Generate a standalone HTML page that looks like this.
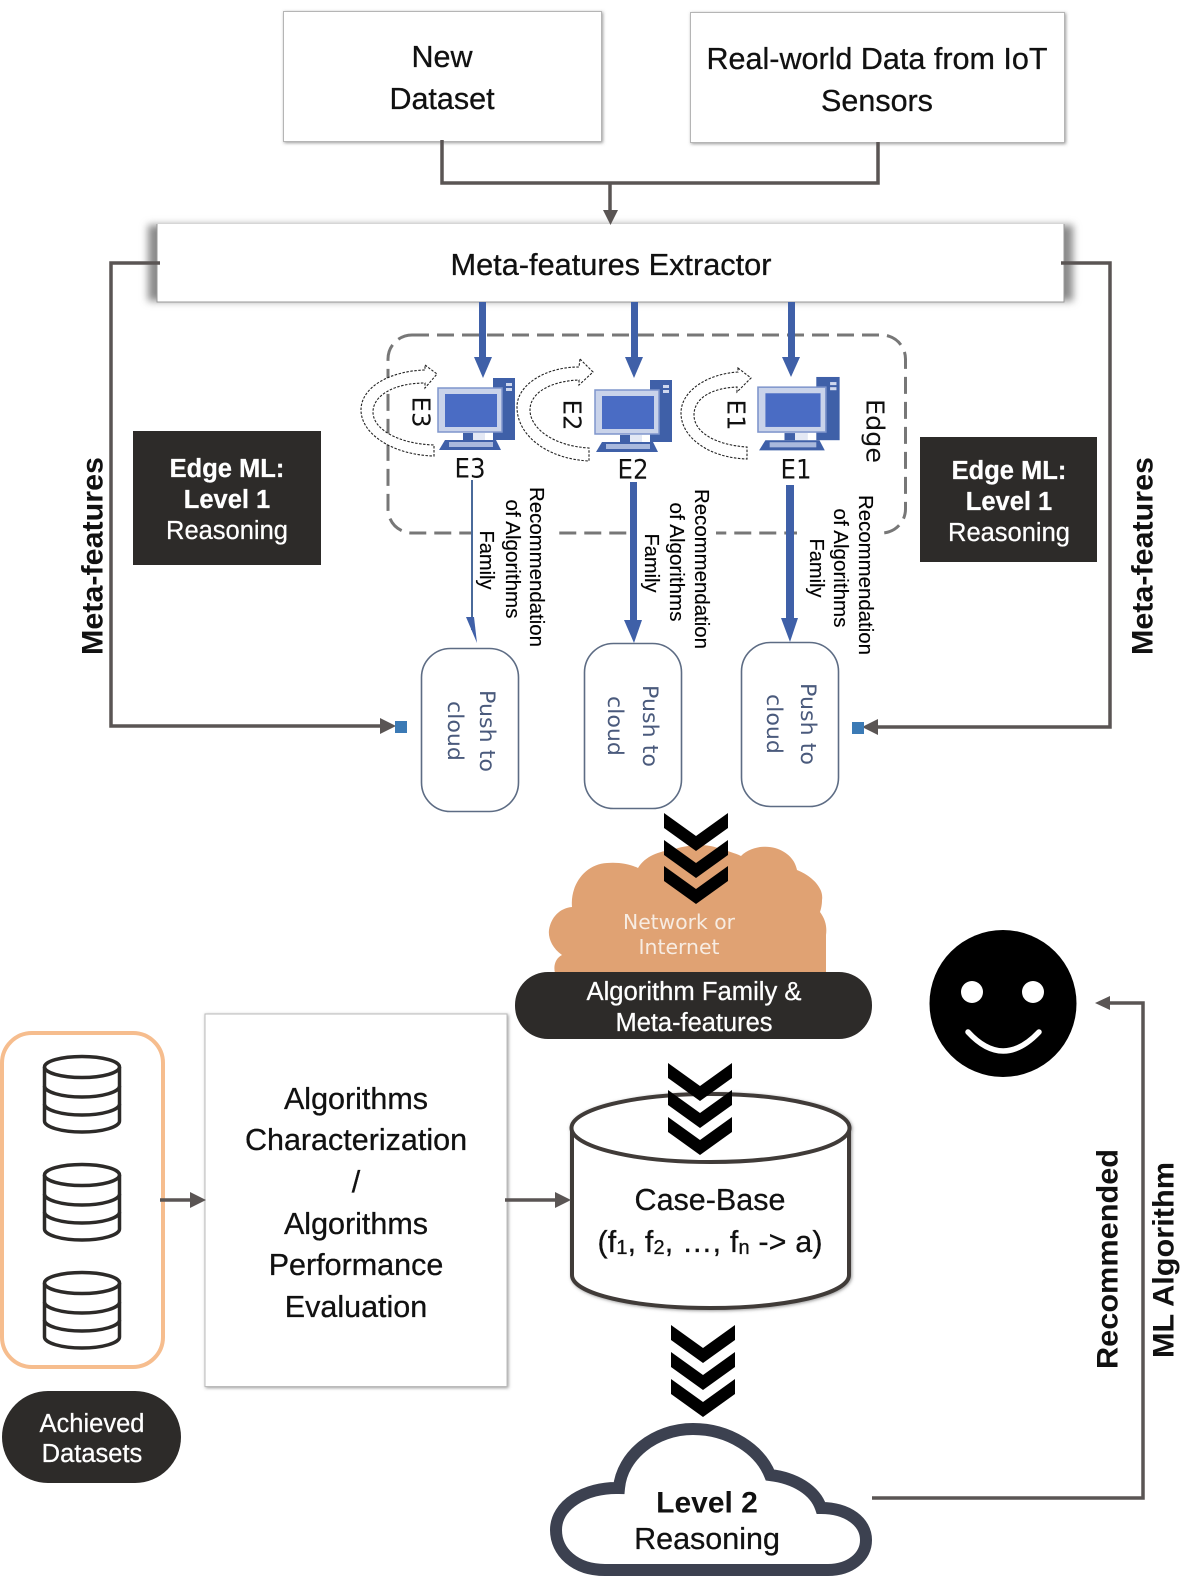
<!DOCTYPE html>
<html>
<head>
<meta charset="utf-8">
<style>
html,body{margin:0;padding:0;background:#fff;width:1181px;height:1576px;overflow:hidden}
svg{display:block}
text{font-family:"Liberation Sans",Arial,sans-serif;dominant-baseline:central;text-anchor:middle;fill:#111}
.t30{font-size:30.5px;stroke:#111;stroke-width:.3}
.w{fill:#fff;font-size:25.5px;stroke:#fff;stroke-width:.25}
.b{font-weight:bold}
.rec{font-size:20px;fill:#000;stroke:#000;stroke-width:.15}
.dj{font-family:"DejaVu Sans",sans-serif}
.push{font-family:"DejaVu Sans",sans-serif;font-size:21px;fill:#4a5a7c}
.pb{fill:#fff;stroke:#5d6c84;stroke-width:1.6}
.dot{fill:#fff;stroke:#222;stroke-width:1.1;stroke-dasharray:2.5 1.5}
</style>
</head>
<body>
<svg width="1181" height="1576" viewBox="0 0 1181 1576" xmlns="http://www.w3.org/2000/svg">
<defs>
<filter id="sh" x="-5%" y="-10%" width="110%" height="120%"><feDropShadow dx="1" dy="1" stdDeviation="1.5" flood-color="#555" flood-opacity=".6"/></filter>
<filter id="blur" x="-5%" y="-30%" width="110%" height="160%"><feGaussianBlur stdDeviation="4"/></filter>
<g id="pc">
<rect x="55" y="-2" width="22" height="62" fill="#3f60a8"/>
<rect x="68" y="3" width="6" height="3" fill="#cfd8ee"/>
<rect x="68" y="8" width="6" height="3" fill="#cfd8ee"/>
<rect x="0" y="8" width="64" height="44" fill="#c9d3ea" stroke="#7f95cc" stroke-width="1.5"/>
<rect x="7" y="14" width="52" height="33" fill="#4a6cc4"/>
<rect x="25" y="53" width="10" height="7" fill="#3f60a8"/>
<rect x="35" y="53" width="12" height="7" fill="#e3e8f4"/>
<polygon points="1,70 63,70 58,60 7,60" fill="#3f60a8"/>
<rect x="11" y="62" width="44" height="5" fill="#a9b9dd"/>
</g>
<polygon id="chev" points="0,0 32,23 64,0 64,15 32,38 0,15" fill="#000"/>
<g id="db" fill="none" stroke="#2c2a28" stroke-width="3.5">
<ellipse cx="82" cy="12" rx="37.5" ry="10.5" fill="#fff"/>
<path d="M44.5 12V66c0 6 17 11 37.5 11s37.5-5 37.5-11V12"/>
<path d="M44.5 31c0 6 17 11 37.5 11s37.5-5 37.5-11"/>
<path d="M44.5 49c0 6 17 11 37.5 11s37.5-5 37.5-11"/>
</g>
</defs>
<rect width="1181" height="1576" fill="#fff"/>

<!-- top boxes -->
<rect x="283.500" y="11.500" width="318" height="130" fill="#fff" stroke="#b5b5b5" filter="url(#sh)"/>
<rect x="690.500" y="12.500" width="374" height="130" fill="#fff" stroke="#b5b5b5" filter="url(#sh)"/>
<text class="t30" x="442" y="57">New</text>
<text class="t30" x="442" y="99">Dataset</text>
<text class="t30" x="877" y="59" textLength="341" lengthAdjust="spacingAndGlyphs">Real-world Data from IoT</text>
<text class="t30" x="877" y="101">Sensors</text>

<!-- extractor -->
<rect x="148" y="225" width="925" height="76" fill="#8a8a8a" filter="url(#blur)"/>
<rect x="157" y="224" width="907" height="78" fill="#fff"/>
<path d="M157 224V302H1064V224" fill="none" stroke="#999" stroke-width="1"/>
<text class="t30" x="611" y="265" textLength="321" lengthAdjust="spacingAndGlyphs">Meta-features Extractor</text>

<g fill="none" stroke="#5a5554" stroke-width="3.5">
<path d="M442 140V183H878V142"/>
<path d="M610 183V212"/>
<path d="M160 263H111V726H382"/>
<path d="M1061 263H1110V727H875"/>
<path d="M872 1498H1143V1003H1108"/>
</g>
<polygon points="603,210 618,210 610.500,225" fill="#5a5554"/>
<polygon points="380,718 396,726 380,734" fill="#5a5554"/>
<polygon points="878,719 862,727 878,735" fill="#5a5554"/>
<polygon points="1110,996 1095,1003 1110,1010" fill="#5a5554"/>

<!-- edge dashed -->
<rect x="388" y="335" width="517.500" height="198" rx="24" fill="none" stroke="#777" stroke-width="3" stroke-dasharray="17 8"/>
<rect x="473" y="528" width="84" height="9" fill="#fff"/>
<rect x="637" y="528" width="79" height="9" fill="#fff"/>
<rect x="797" y="528" width="87" height="9" fill="#fff"/>

<!-- blue down arrows -->
<g fill="#3f60a8">
<rect x="479" y="302" width="7" height="60"/><polygon points="474,357 492,357 483,378"/>
<rect x="631" y="302" width="7" height="60"/><polygon points="625,357 643,357 634,378"/>
<rect x="788" y="302" width="7" height="60"/><polygon points="782,357 800,357 791,377"/>
</g>

<!-- dotted loops -->
<path class="dot" d="M425 365L437 374L425 388V383C395 383 373 395 373 412C373 430 400 444 434 445V456C393 455 361 434 361 410C361 387 390 371 425 370Z"/>
<path class="dot" d="M580 359L593 372L579 385V380C552 381 530 392 530 410C530 428 553 446 589 448V461C548 459 517 436 517 407C517 385 545 367 579 367Z"/>
<path class="dot" d="M738 368L751 378L737 392V387C712 388 694 398 694 415C694 432 715 445 747 447V459C710 458 681 438 681 413C681 391 707 374 738 372Z"/>

<!-- computers -->
<use href="#pc" transform="translate(438,380)"/>
<use href="#pc" transform="translate(595,382)"/>
<use href="#pc" transform="translate(758,379) scale(1.06,1.02)"/>

<!-- E labels -->
<g class="dj">
<text class="dj" transform="translate(421,412) rotate(90)" font-size="25" textLength="31" lengthAdjust="spacingAndGlyphs">E3</text>
<text class="dj" transform="translate(572,415) rotate(90)" font-size="25" textLength="31" lengthAdjust="spacingAndGlyphs">E2</text>
<text class="dj" transform="translate(736,415) rotate(90)" font-size="25" textLength="31" lengthAdjust="spacingAndGlyphs">E1</text>
<text class="dj" x="470" y="469" font-size="27" textLength="31" lengthAdjust="spacingAndGlyphs">E3</text>
<text class="dj" x="633" y="470" font-size="27" textLength="31" lengthAdjust="spacingAndGlyphs">E2</text>
<text class="dj" x="796" y="470" font-size="27" textLength="31" lengthAdjust="spacingAndGlyphs">E1</text>
<text class="dj" transform="translate(875,431) rotate(90)" font-size="25" textLength="64" lengthAdjust="spacingAndGlyphs">Edge</text>
</g>

<!-- arrows below -->
<g>
<rect x="471" y="480" width="2" height="150" fill="#4a6a9a"/>
<polygon points="466,617 474,617 477,643" fill="#3f60a8"/>
<rect x="630" y="482" width="7" height="145" fill="#3f60a8"/>
<polygon points="624,620 642,620 634,643" fill="#3f60a8"/>
<rect x="786" y="485" width="8" height="142" fill="#3f60a8"/>
<polygon points="781,618 798,618 790,642" fill="#3f60a8"/>
</g>

<!-- rec labels -->
<text class="rec" transform="translate(536,567) rotate(90)" textLength="160" lengthAdjust="spacingAndGlyphs">Recommendation</text>
<text class="rec" transform="translate(512,559) rotate(90)" textLength="119" lengthAdjust="spacingAndGlyphs">of Algorithms</text>
<text class="rec" transform="translate(486,560) rotate(90)" textLength="59" lengthAdjust="spacingAndGlyphs">Family</text>
<text class="rec" transform="translate(701,569) rotate(90)" textLength="160" lengthAdjust="spacingAndGlyphs">Recommendation</text>
<text class="rec" transform="translate(676,562) rotate(90)" textLength="119" lengthAdjust="spacingAndGlyphs">of Algorithms</text>
<text class="rec" transform="translate(651,563) rotate(90)" textLength="59" lengthAdjust="spacingAndGlyphs">Family</text>
<text class="rec" transform="translate(865,575) rotate(90)" textLength="160" lengthAdjust="spacingAndGlyphs">Recommendation</text>
<text class="rec" transform="translate(840,568) rotate(90)" textLength="119" lengthAdjust="spacingAndGlyphs">of Algorithms</text>
<text class="rec" transform="translate(816,568) rotate(90)" textLength="59" lengthAdjust="spacingAndGlyphs">Family</text>

<!-- push boxes -->
<rect class="pb" x="421.500" y="648.500" width="97" height="163" rx="29"/>
<rect class="pb" x="584.500" y="643.500" width="97" height="165" rx="29"/>
<rect class="pb" x="741.500" y="642.500" width="97" height="164" rx="29"/>
<text class="push" transform="translate(487,731) rotate(90)" textLength="82" lengthAdjust="spacingAndGlyphs">Push to</text>
<text class="push" transform="translate(455,731) rotate(90)" textLength="60" lengthAdjust="spacingAndGlyphs">cloud</text>
<text class="push" transform="translate(650,726) rotate(90)" textLength="82" lengthAdjust="spacingAndGlyphs">Push to</text>
<text class="push" transform="translate(615,726) rotate(90)" textLength="60" lengthAdjust="spacingAndGlyphs">cloud</text>
<text class="push" transform="translate(808,724) rotate(90)" textLength="82" lengthAdjust="spacingAndGlyphs">Push to</text>
<text class="push" transform="translate(774,724) rotate(90)" textLength="60" lengthAdjust="spacingAndGlyphs">cloud</text>

<rect x="395" y="721" width="12" height="12" fill="#3b7ab5"/>
<rect x="852" y="722" width="12" height="12" fill="#3b7ab5"/>

<!-- side labels -->
<text class="b" font-size="29.500" transform="translate(93,556) rotate(-90)" textLength="198" lengthAdjust="spacingAndGlyphs">Meta-features</text>
<text class="b" font-size="29.500" transform="translate(1143,556) rotate(-90)" textLength="198" lengthAdjust="spacingAndGlyphs">Meta-features</text>

<!-- edge ML -->
<rect x="133" y="431" width="188" height="134" fill="#2d2b29"/>
<text class="w b" x="227" y="469">Edge ML:</text>
<text class="w b" x="227" y="500">Level 1</text>
<text class="w" x="227" y="531">Reasoning</text>
<rect x="920" y="437" width="177" height="125" fill="#2d2b29"/>
<text class="w b" x="1009" y="471">Edge ML:</text>
<text class="w b" x="1009" y="502">Level 1</text>
<text class="w" x="1009" y="533">Reasoning</text>

<!-- orange cloud -->
<path d="M555 973C553 965 556 958 562 955C552 948 548 938 549 930C551 917 560 908 572 907C570 885 585 864 607 863C618 862 630 864 638 868C645 856 660 851 672 850C685 845 705 843 718 848C727 851 735 853 741 856C750 847 765 845 775 848C788 852 795 860 797 870C812 876 824 888 822 900C822 905 821 909 820 912C826 920 827 928 826 935V973Z" fill="#e0a273"/>
<text class="dj" x="679" y="922" font-size="20" style="fill:#f7ece2" textLength="112" lengthAdjust="spacingAndGlyphs">Network or</text>
<text class="dj" x="679" y="947" font-size="20" style="fill:#f7ece2" textLength="81" lengthAdjust="spacingAndGlyphs">Internet</text>

<use href="#chev" x="664" y="813"/><use href="#chev" x="664" y="840"/><use href="#chev" x="664" y="866"/>

<!-- pill -->
<rect x="515" y="972" width="357" height="67" rx="33" fill="#2d2b29"/>
<text class="w" x="694" y="992" textLength="215" lengthAdjust="spacingAndGlyphs">Algorithm Family &amp;</text>
<text class="w" x="694" y="1023" textLength="157" lengthAdjust="spacingAndGlyphs">Meta-features</text>

<!-- cylinder -->
<g filter="url(#sh)">
<path d="M572 1128V1275C572 1294 635 1308 710 1308S849 1294 849 1275V1128" fill="#fff" stroke="#3f3a38" stroke-width="4"/>
<ellipse cx="710.500" cy="1128" rx="139" ry="34" fill="#fff" stroke="#3f3a38" stroke-width="4"/>
</g>
<text class="t30" x="710" y="1200">Case-Base</text>
<text class="t30" x="710" y="1242" textLength="225">(f<tspan font-size="20" dy="6">1</tspan><tspan dy="-6">, f</tspan><tspan font-size="20" dy="6">2</tspan><tspan dy="-6">, …, f</tspan><tspan font-size="20" dy="6">n</tspan><tspan dy="-6"> -&gt; a)</tspan></text>
<use href="#chev" x="668" y="1063"/><use href="#chev" x="668" y="1090"/><use href="#chev" x="668" y="1117"/>
<use href="#chev" x="671" y="1325"/><use href="#chev" x="671" y="1352"/><use href="#chev" x="671" y="1379"/>

<!-- algorithms box -->
<rect x="205" y="1014" width="302" height="372.500" fill="#fff" stroke="#bbb" filter="url(#sh)"/>
<text class="t30" x="356" y="1099">Algorithms</text>
<text class="t30" x="356" y="1140">Characterization</text>
<text class="t30" x="356" y="1182">/</text>
<text class="t30" x="356" y="1224">Algorithms</text>
<text class="t30" x="356" y="1265">Performance</text>
<text class="t30" x="356" y="1307">Evaluation</text>

<!-- datasets -->
<rect x="2" y="1033" width="161" height="334" rx="30" fill="#fff" stroke="#f6bd8e" stroke-width="4"/>
<use href="#db" y="1055"/><use href="#db" y="1163"/><use href="#db" y="1271"/>
<rect x="2" y="1391" width="179" height="92" rx="46" fill="#2d2b29"/>
<text class="w" x="92" y="1424">Achieved</text>
<text class="w" x="92" y="1454">Datasets</text>

<!-- horizontal connectors over boxes -->
<path d="M160 1200H192M505 1200H557" fill="none" stroke="#5a5554" stroke-width="3.500"/>
<polygon points="190,1192 206,1200 190,1208" fill="#5a5554"/>
<polygon points="555,1192 571,1200 555,1208" fill="#5a5554"/>

<!-- smiley -->
<circle cx="1003" cy="1003.500" r="73.500" fill="#000"/>
<circle cx="972" cy="992" r="11" fill="#fff"/>
<circle cx="1033" cy="992" r="11" fill="#fff"/>
<path d="M968 1032Q1003 1070 1039 1032" fill="none" stroke="#fff" stroke-width="5.500" stroke-linecap="round"/>

<text class="b" font-size="30" transform="translate(1108,1259) rotate(-90)" textLength="220" lengthAdjust="spacingAndGlyphs">Recommended</text>
<text class="b" font-size="30" transform="translate(1164,1260) rotate(-90)" textLength="196" lengthAdjust="spacingAndGlyphs">ML Algorithm</text>

<!-- level 2 cloud -->
<path d="M605 1570C575 1570 556 1552 556 1530C556 1505 585 1487 619 1488C622 1455 655 1429 693 1429C730 1429 760 1450 770 1475C795 1478 815 1490 821 1508C848 1508 866 1522 866 1540C866 1557 850 1570 828 1570Z" fill="#fff" stroke="#3c4150" stroke-width="12"/>
<text class="b" font-size="30" x="707" y="1503">Level 2</text>
<text font-size="30.500" x="707" y="1539" stroke="#111" stroke-width=".3">Reasoning</text>
</svg>
</body>
</html>
